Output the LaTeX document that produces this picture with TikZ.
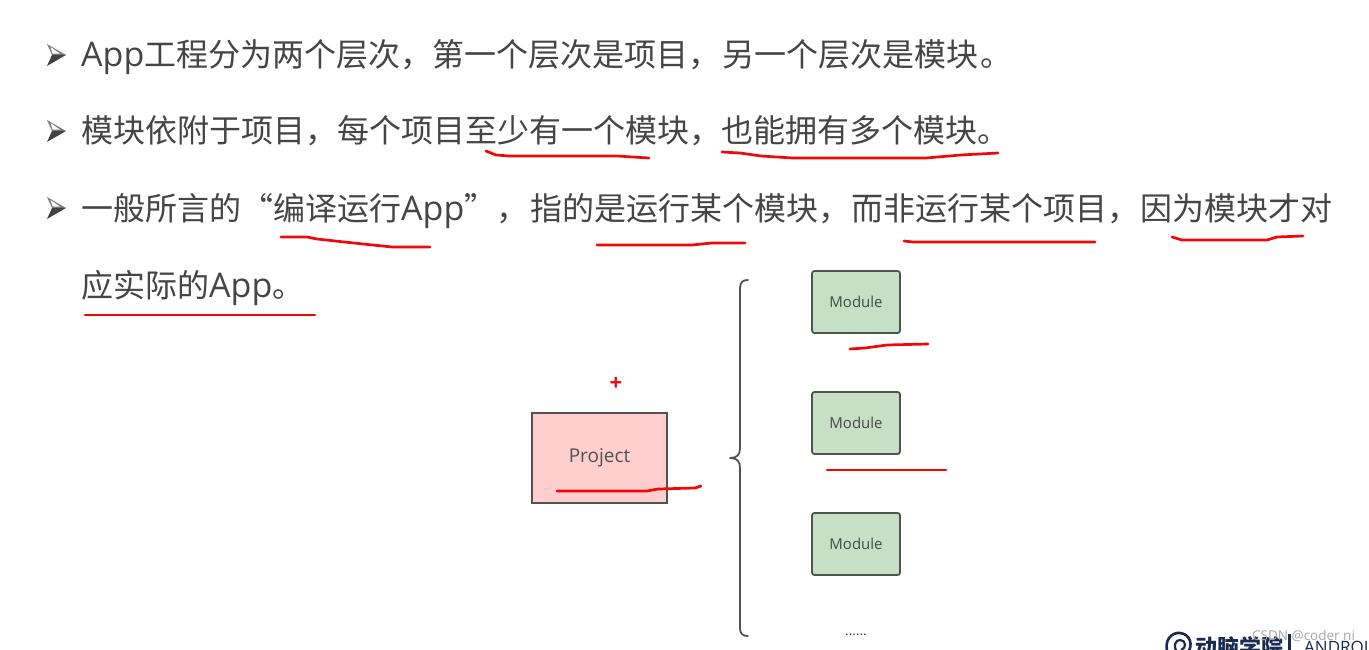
\documentclass[tikz,border=0pt]{standalone}
\usepackage{fontspec}
\setmainfont{Noto Sans CJK SC}
\newfontfamily\latinf{Open Sans}
\definecolor{txt}{HTML}{454545}
\definecolor{inkred}{HTML}{F00808}
\definecolor{edge}{HTML}{4F5450}
\definecolor{pinkf}{HTML}{FFCECE}
\definecolor{greenf}{HTML}{C6E0C6}
\definecolor{logoc}{HTML}{1A2A50}
\newcommand{\appword}{{\latinf\fontsize{34}{34}\selectfont App}}
\tikzset{
  x=1pt,y=-1pt,
  line/.style={anchor=base west,inner sep=0pt,text=txt,font=\fontsize{32}{32}\selectfont},
  ink/.style={draw=inkred,line width=2.7pt,line cap=round,line join=round},
  modbox/.style={draw=edge,line width=1.8pt,fill=greenf,rounded corners=2.5pt,minimum width=88pt,minimum height=62pt,inner sep=0pt,text=edge!90!black,font=\latinf\fontsize{15}{15}\selectfont},
  projbox/.style={draw=edge,line width=1.8pt,fill=pinkf,minimum width=135pt,minimum height=90pt,inner sep=0pt,text=edge,font=\latinf\fontsize{19}{19}\selectfont},
}
\newcommand{\bulletmark}[1]{%
  \begin{scope}[shift={(0,#1)}]
    \fill[txt!70!white] (47,44) -- (66,55) -- (52,55) -- cycle;
    \fill[white] (50.5,47) -- (60,53.6) -- (52.6,53.6) -- cycle;
    \fill[txt!95!black] (47,66) -- (66,55) -- (52,55) -- cycle;
  \end{scope}}
\begin{document}
\begin{tikzpicture}
\useasboundingbox[fill=white] (0,0) rectangle (1369,650);
\bulletmark{0}\bulletmark{76}\bulletmark{153}
\node[line] (l1) at (81,67) {\appword 工程分为两个层次，第一个层次是项目，\kern2pt 另一个层次是模块\kern2pt 。};
\node[line] (l2) at (81,143) {模块依附于项目，每个项目至少有一个模块，也能拥有多个模块。};
\node[line] (l3) at (81,220) {一般所言的“编译运行\appword”，\kern2pt 指的是运行某个模块，\kern1pt 而非运行某个项目，\kern1pt 因为模块才对};
\node[line] (l4) at (81,297) {应实际的\appword。};
\node[projbox] (proj) at (599.5,458) {};
\node[inner sep=0pt,text=edge,font=\latinf\fontsize{19}{19}\selectfont] (projlabel) at (599.5,457.5) {Project};
\node[modbox] (m1) at (856,302) {Module};
\node[modbox] (m2) at (856,423) {Module};
\node[modbox] (m3) at (856,544) {Module};
\node[inner sep=0pt,text=txt,font=\fontsize{13}{13}\selectfont] (dots) at (856,634.5) {......};
\node[inner sep=0pt,text=inkred,font=\latinf\bfseries\fontsize{22}{22}\selectfont] (plus) at (616,383.5) {+};
\draw[edge,line width=1.8pt,line join=round,line cap=round] (748,280) .. controls (743,280) and (740,282) .. (740,288)
  -- (740,448) .. controls (740,455) and (737,458) .. (730,458)
  .. controls (737,458) and (740,461) .. (740,468)
  -- (740,628) .. controls (740,634) and (743,636) .. (748,636);
\draw[ink] (486,151) -- (496,155) -- (509,156) -- (617,156) -- (649,158);
\draw[ink] (722,152) -- (740,153) -- (761,156) -- (793,158) -- (926,158) -- (961,155) -- (998,153);
\draw[ink] (281,237) -- (307,237) -- (317,239) -- (363,244) -- (392,247) -- (430,247);
\draw[ink] (597,245) -- (692,245) -- (712,243) -- (745,243);
\draw[ink] (904,241) -- (913,242) -- (1095,242);
\draw[ink] (1172,237) -- (1182,240) -- (1267,240) -- (1277,237) -- (1303,236);
\draw[ink] (85,315) -- (315,315);
\draw[ink] (850,349) -- (865,348) -- (887,345) -- (928,344);
\draw[ink] (827,470) -- (946,470);
\draw[ink] (557,491) -- (647,491) -- (658,489) -- (695,488) -- (701,486);
\begin{scope}
\clip (0,0) rectangle (1369,650);
\draw[logoc,line width=2.6pt] (1168,654) .. controls (1163,640) and (1172,632) .. (1180,633) .. controls (1190,634) and (1194,645) .. (1187,654);
\draw[logoc,line width=2.2pt] (1178,654) .. controls (1172,645) and (1176,640) .. (1180,640) .. controls (1186,640) and (1187,648) .. (1181,650);
\node[anchor=base west,inner sep=0pt,text=logoc,font=\bfseries\fontsize{22}{22}\selectfont] (logo) at (1195,655) {动脑学院};
\node[anchor=base west,inner sep=0pt,text=logoc,font=\latinf\fontsize{17}{17}\selectfont] (logo2) at (1304,653) {ANDROID};
\fill[logoc] (1288,634) rectangle (1291,650);
\end{scope}
\node[anchor=base west,inner sep=0pt,text=gray!70,font=\latinf\fontsize{13.5}{13.5}\selectfont] (wm) at (1252,640) {CSDN @coder ni};
\end{tikzpicture}
\end{document}
